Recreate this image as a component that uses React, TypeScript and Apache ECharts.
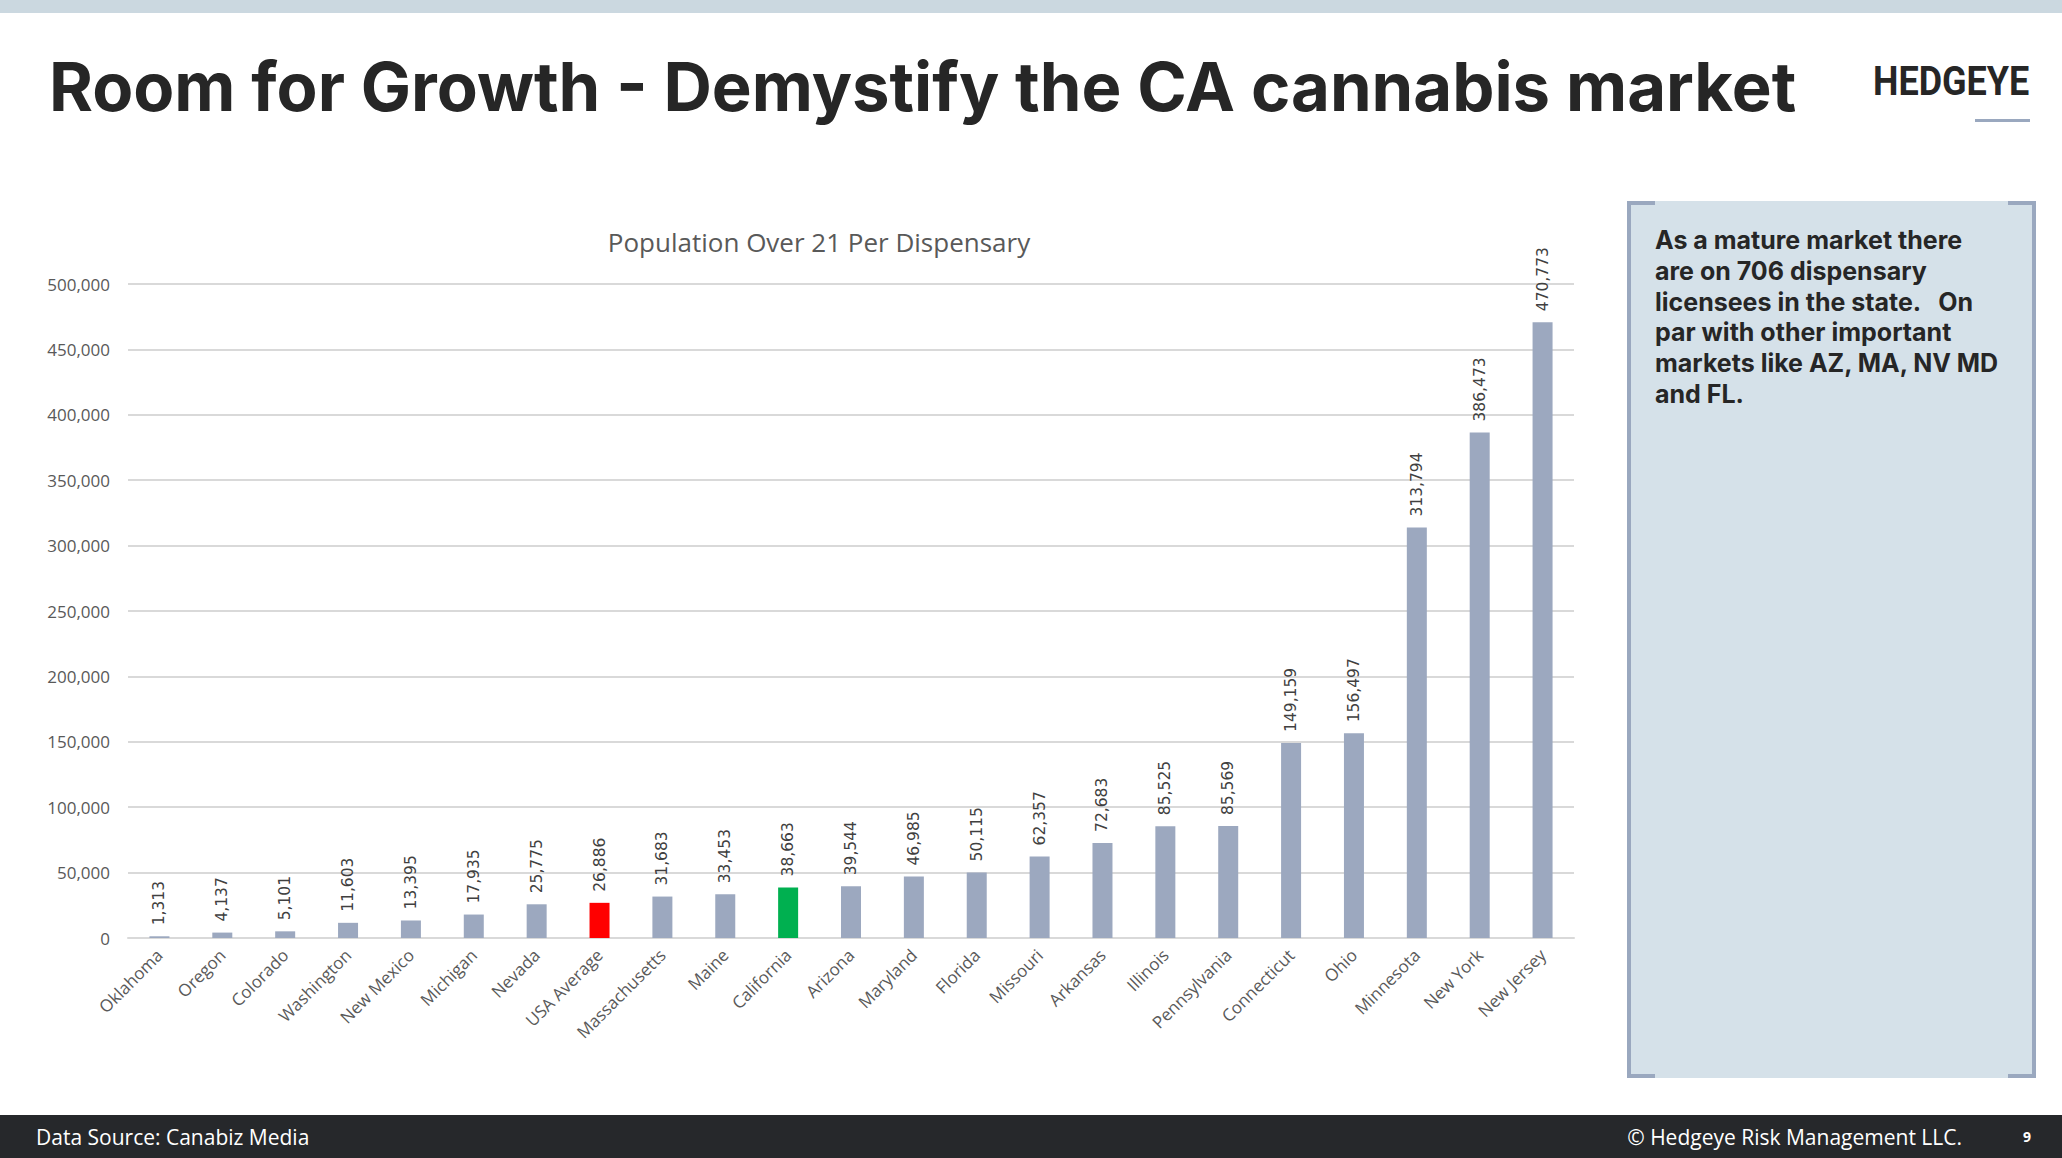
import React, { useEffect, useRef } from "react";
import * as echarts from "echarts";

const categories = [
  "Oklahoma", "Oregon", "Colorado", "Washington", "New Mexico", "Michigan", "Nevada",
  "USA Average", "Massachusetts", "Maine", "California", "Arizona", "Maryland", "Florida",
  "Missouri", "Arkansas", "Illinois", "Pennsylvania", "Connecticut", "Ohio", "Minnesota",
  "New York", "New Jersey",
];
const values = [
  1313, 4137, 5101, 11603, 13395, 17935, 25775, 26886, 31683, 33453, 38663, 39544, 46985,
  50115, 62357, 72683, 85525, 85569, 149159, 156497, 313794, 386473, 470773,
];
const highlightColors: Record<string, string> = {
  "USA Average": "#ff0000",
  California: "#00b050",
};
const yTicks = { min: 0, max: 500000, interval: 50000 };
const titleText = "Room for Growth - Demystify the CA cannabis market";
const chartTitle = "Population Over 21 Per Dispensary";
const boxLines = [
  "As a mature market there",
  "are on 706 dispensary",
  "licensees in the state.   On",
  "par with other important",
  "markets like AZ, MA, NV MD",
  "and FL.",
];
const footerLeft = "Data Source: Canabiz Media";
const footerRight = "© Hedgeye Risk Management LLC.";
const pageNumber = "9";

const fmt = (v: number) => v.toLocaleString("en-US");

export default function App() {
  const ref = useRef<HTMLDivElement>(null);
  useEffect(() => {
    if (!ref.current) return;
    const chart = echarts.init(ref.current, null, { renderer: "svg" });
    const boxColor = "#9aa8bf";
    const graphic: any[] = [
      { type: "rect", shape: { x: 0, y: 0, width: 2062, height: 13 }, style: { fill: "#cbd8e0" } },
      {
        type: "text", x: 49, y: 86,
        style: { text: titleText, font: "bold 67px Inter", fill: "#262626", verticalAlign: "middle" },
      },
      {
        type: "text", x: 1873, y: 81, scaleX: 0.9,
        style: { text: "HEDGEYE", font: "bold 40px Roboto", fill: "#262626", verticalAlign: "middle" },
      },
      { type: "rect", shape: { x: 1975, y: 119, width: 55, height: 3 }, style: { fill: boxColor } },
      // side box
      { type: "rect", shape: { x: 1629, y: 201, width: 405, height: 877 }, style: { fill: "#d5e1e9" } },
      { type: "rect", shape: { x: 1627, y: 201, width: 4, height: 877 }, style: { fill: boxColor } },
      { type: "rect", shape: { x: 2032, y: 201, width: 4, height: 877 }, style: { fill: boxColor } },
      { type: "rect", shape: { x: 1627, y: 201, width: 28, height: 4 }, style: { fill: boxColor } },
      { type: "rect", shape: { x: 2008, y: 201, width: 28, height: 4 }, style: { fill: boxColor } },
      { type: "rect", shape: { x: 1627, y: 1074, width: 28, height: 4 }, style: { fill: boxColor } },
      { type: "rect", shape: { x: 2008, y: 1074, width: 28, height: 4 }, style: { fill: boxColor } },
      ...boxLines.map((t, i) => ({
        type: "text", x: 1655, y: 240 + i * 30.8,
        style: { text: t, font: "bold 25px Inter", fill: "#262626", verticalAlign: "middle" },
      })),
      // footer
      { type: "rect", shape: { x: 0, y: 1115, width: 2062, height: 43 }, style: { fill: "#26282b" } },
      {
        type: "text", x: 36, y: 1137,
        style: { text: footerLeft, font: "21px 'Open Sans'", fill: "#ffffff", verticalAlign: "middle" },
      },
      {
        type: "text", x: 1962, y: 1137,
        style: { text: footerRight, font: "21px 'Open Sans'", fill: "#ffffff", verticalAlign: "middle", align: "right" },
      },
      {
        type: "text", x: 2027, y: 1136,
        style: { text: pageNumber, font: "bold 14px 'Open Sans'", fill: "#ffffff", verticalAlign: "middle", align: "center" },
      },
    ];

    chart.setOption({
      animation: false,
      title: {
        text: chartTitle,
        left: 814,
        top: 224,
        textAlign: "center",
        textStyle: { fontFamily: "Open Sans", fontWeight: "normal", fontSize: 26, color: "#595959" },
      },
      grid: { left: 128, right: 488, top: 284, bottom: 220, containLabel: false },
      xAxis: {
        type: "category",
        data: categories,
        axisLine: { show: true, lineStyle: { color: "#d9d9d9", width: 2 } },
        axisTick: { show: false },
        axisLabel: {
          rotate: 45, interval: 0, color: "#595959", fontFamily: "Open Sans", fontSize: 17, margin: 14,
        },
      },
      yAxis: {
        type: "value",
        min: yTicks.min,
        max: yTicks.max,
        interval: yTicks.interval,
        axisLine: { show: false },
        axisTick: { show: false },
        splitLine: { lineStyle: { color: "#d9d9d9", width: 2 } },
        axisLabel: {
          color: "#595959", fontFamily: "Open Sans", fontSize: 17, margin: 18,
          formatter: (v: number) => fmt(v),
        },
      },
      series: [
        {
          type: "bar",
          barWidth: 20,
          data: values.map((v, i) => ({
            value: v,
            itemStyle: { color: highlightColors[categories[i]] || "#9ca8bf" },
          })),
          label: {
            show: true,
            position: "top",
            rotate: 90,
            align: "left",
            verticalAlign: "middle",
            distance: 11,
            color: "#404040",
            fontFamily: "DejaVu Sans",
            fontSize: 15.5,
            formatter: (p: any) => fmt(p.value),
          },
        },
      ],
      graphic,
    });
    return () => chart.dispose();
  }, []);
  return (
    <div
      ref={ref}
      style={{ position: "fixed", left: 0, top: 0, width: 2062, height: 1158, background: "#ffffff" }}
    />
  );
}
